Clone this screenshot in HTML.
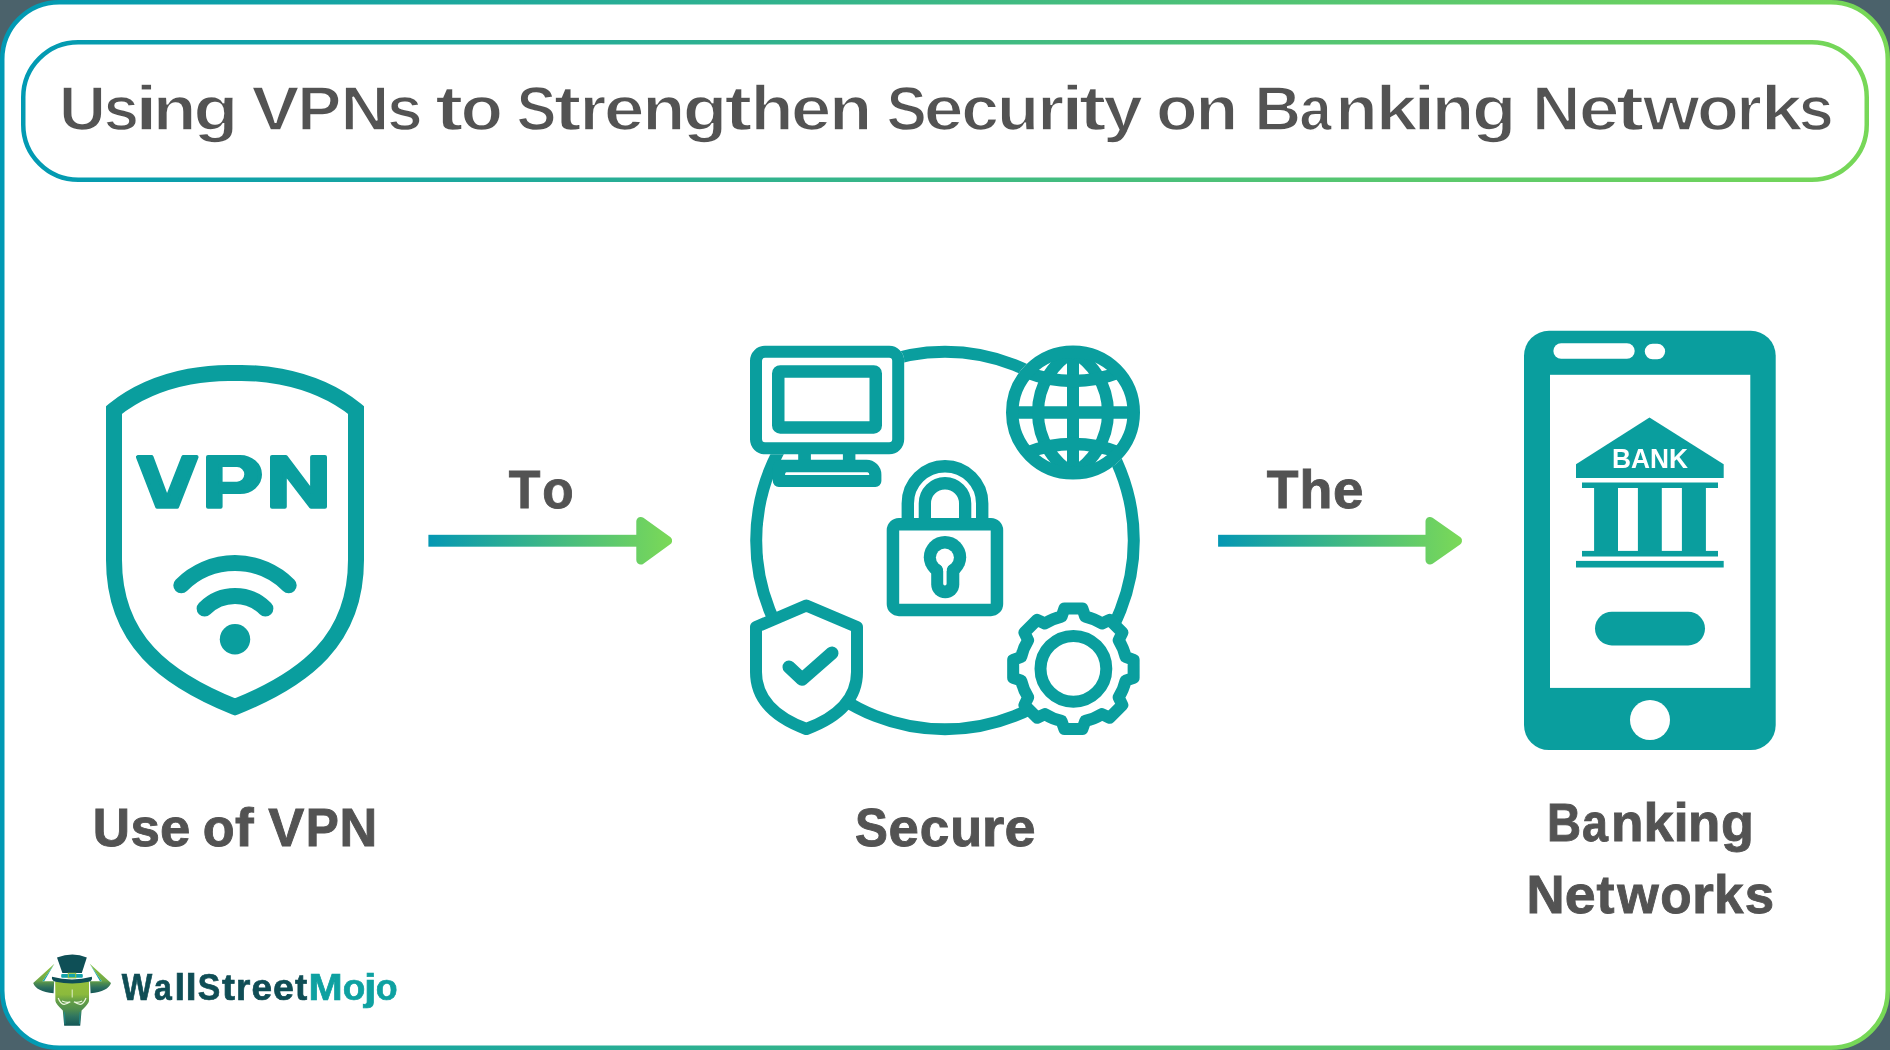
<!DOCTYPE html>
<html><head><meta charset="utf-8"><style>
html,body{margin:0;padding:0;width:1890px;height:1050px;overflow:hidden;background:#4b626b}
svg{display:block;will-change:transform}
text{font-family:"Liberation Sans",sans-serif}
</style></head><body>
<svg width="1890" height="1050" viewBox="0 0 1890 1050">
<defs>
<linearGradient id="gb" x1="0" y1="0" x2="1890" y2="0" gradientUnits="userSpaceOnUse"><stop offset="0" stop-color="#0099b4"/><stop offset="1" stop-color="#78d856"/></linearGradient>
<linearGradient id="ga1" x1="428" y1="0" x2="672" y2="0" gradientUnits="userSpaceOnUse"><stop offset="0" stop-color="#0497b3"/><stop offset="1" stop-color="#7bd957"/></linearGradient>
<linearGradient id="ga2" x1="1218" y1="0" x2="1462" y2="0" gradientUnits="userSpaceOnUse"><stop offset="0" stop-color="#0497b3"/><stop offset="1" stop-color="#7bd957"/></linearGradient>
<clipPath id="gclip"><circle cx="1073" cy="412.5" r="61"/></clipPath>
</defs>
<rect x="0" y="0" width="1890" height="1050" fill="#4b626b"/>
<rect x="2.25" y="2.25" width="1885.5" height="1045.5" rx="57" fill="#ffffff" stroke="url(#gb)" stroke-width="4.5"/>
<rect x="23.25" y="42.25" width="1843.5" height="137.5" rx="55" fill="none" stroke="url(#gb)" stroke-width="4.5"/>
<text transform="translate(59.04,0) scale(1.0270,1)" x="0" y="129.6" font-size="63.2" fill="#535353" font-weight="bold" stroke="#fff" stroke-width="1.6">U</text>
<text transform="translate(103.48,0) scale(1.0124,1)" x="0" y="129.6" font-size="63.2" fill="#535353" font-weight="bold" stroke="#fff" stroke-width="1.6">s</text>
<text transform="translate(134.76,0) scale(1.3279,1)" x="0" y="129.6" font-size="63.2" fill="#535353" font-weight="bold" stroke="#fff" stroke-width="1.6">i</text>
<text transform="translate(152.74,0) scale(1.1362,1)" x="0" y="129.6" font-size="63.2" fill="#535353" font-weight="bold" stroke="#fff" stroke-width="1.6">n</text>
<text transform="translate(193.18,0) scale(1.1731,1)" x="0" y="129.6" font-size="63.2" fill="#535353" font-weight="bold" stroke="#fff" stroke-width="1.6">g</text>
<text transform="translate(251.26,0) scale(1.1484,1)" x="0" y="129.6" font-size="63.2" fill="#535353" font-weight="bold" stroke="#fff" stroke-width="1.6">V</text>
<text transform="translate(297.31,0) scale(1.0467,1)" x="0" y="129.6" font-size="63.2" fill="#535353" font-weight="bold" stroke="#fff" stroke-width="1.6">P</text>
<text transform="translate(340.54,0) scale(1.0730,1)" x="0" y="129.6" font-size="63.2" fill="#535353" font-weight="bold" stroke="#fff" stroke-width="1.6">N</text>
<text transform="translate(386.99,0) scale(1.0151,1)" x="0" y="129.6" font-size="63.2" fill="#535353" font-weight="bold" stroke="#fff" stroke-width="1.6">s</text>
<text transform="translate(435.05,0) scale(1.3506,1)" x="0" y="129.6" font-size="63.2" fill="#535353" font-weight="bold" stroke="#fff" stroke-width="1.6">t</text>
<text transform="translate(460.58,0) scale(1.1017,1)" x="0" y="129.6" font-size="63.2" fill="#535353" font-weight="bold" stroke="#fff" stroke-width="1.6">o</text>
<text transform="translate(516.55,0) scale(0.9480,1)" x="0" y="129.6" font-size="63.2" fill="#535353" font-weight="bold" stroke="#fff" stroke-width="1.6">S</text>
<text transform="translate(553.75,0) scale(1.3193,1)" x="0" y="129.6" font-size="63.2" fill="#535353" font-weight="bold" stroke="#fff" stroke-width="1.6">t</text>
<text transform="translate(579.38,0) scale(1.0911,1)" x="0" y="129.6" font-size="63.2" fill="#535353" font-weight="bold" stroke="#fff" stroke-width="1.6">r</text>
<text transform="translate(603.85,0) scale(1.1625,1)" x="0" y="129.6" font-size="63.2" fill="#535353" font-weight="bold" stroke="#fff" stroke-width="1.6">e</text>
<text transform="translate(642.20,0) scale(1.1176,1)" x="0" y="129.6" font-size="63.2" fill="#535353" font-weight="bold" stroke="#fff" stroke-width="1.6">n</text>
<text transform="translate(682.74,0) scale(1.1579,1)" x="0" y="129.6" font-size="63.2" fill="#535353" font-weight="bold" stroke="#fff" stroke-width="1.6">g</text>
<text transform="translate(724.17,0) scale(1.3372,1)" x="0" y="129.6" font-size="63.2" fill="#535353" font-weight="bold" stroke="#fff" stroke-width="1.6">t</text>
<text transform="translate(750.49,0) scale(1.1167,1)" x="0" y="129.6" font-size="63.2" fill="#535353" font-weight="bold" stroke="#fff" stroke-width="1.6">h</text>
<text transform="translate(790.65,0) scale(1.1570,1)" x="0" y="129.6" font-size="63.2" fill="#535353" font-weight="bold" stroke="#fff" stroke-width="1.6">e</text>
<text transform="translate(829.10,0) scale(1.1214,1)" x="0" y="129.6" font-size="63.2" fill="#535353" font-weight="bold" stroke="#fff" stroke-width="1.6">n</text>
<text transform="translate(886.41,0) scale(0.9558,1)" x="0" y="129.6" font-size="63.2" fill="#535353" font-weight="bold" stroke="#fff" stroke-width="1.6">S</text>
<text transform="translate(923.68,0) scale(1.1324,1)" x="0" y="129.6" font-size="63.2" fill="#535353" font-weight="bold" stroke="#fff" stroke-width="1.6">e</text>
<text transform="translate(961.33,0) scale(1.0746,1)" x="0" y="129.6" font-size="63.2" fill="#535353" font-weight="bold" stroke="#fff" stroke-width="1.6">c</text>
<text transform="translate(996.69,0) scale(1.1027,1)" x="0" y="129.6" font-size="63.2" fill="#535353" font-weight="bold" stroke="#fff" stroke-width="1.6">u</text>
<text transform="translate(1037.17,0) scale(1.0939,1)" x="0" y="129.6" font-size="63.2" fill="#535353" font-weight="bold" stroke="#fff" stroke-width="1.6">r</text>
<text transform="translate(1060.66,0) scale(1.3222,1)" x="0" y="129.6" font-size="63.2" fill="#535353" font-weight="bold" stroke="#fff" stroke-width="1.6">i</text>
<text transform="translate(1078.76,0) scale(1.3232,1)" x="0" y="129.6" font-size="63.2" fill="#535353" font-weight="bold" stroke="#fff" stroke-width="1.6">t</text>
<text transform="translate(1103.09,0) scale(1.1401,1)" x="0" y="129.6" font-size="63.2" fill="#535353" font-weight="bold" stroke="#fff" stroke-width="1.6">y</text>
<text transform="translate(1156.01,0) scale(1.0780,1)" x="0" y="129.6" font-size="63.2" fill="#535353" font-weight="bold" stroke="#fff" stroke-width="1.6">o</text>
<text transform="translate(1195.16,0) scale(1.1179,1)" x="0" y="129.6" font-size="63.2" fill="#535353" font-weight="bold" stroke="#fff" stroke-width="1.6">n</text>
<text transform="translate(1254.22,0) scale(1.0275,1)" x="0" y="129.6" font-size="63.2" fill="#535353" font-weight="bold" stroke="#fff" stroke-width="1.6">B</text>
<text transform="translate(1299.27,0) scale(0.9240,1)" x="0" y="129.6" font-size="63.2" fill="#535353" font-weight="bold" stroke="#fff" stroke-width="1.6">a</text>
<text transform="translate(1335.28,0) scale(1.1017,1)" x="0" y="129.6" font-size="63.2" fill="#535353" font-weight="bold" stroke="#fff" stroke-width="1.6">n</text>
<text transform="translate(1375.49,0) scale(1.1991,1)" x="0" y="129.6" font-size="63.2" fill="#535353" font-weight="bold" stroke="#fff" stroke-width="1.6">k</text>
<text transform="translate(1412.87,0) scale(1.3222,1)" x="0" y="129.6" font-size="63.2" fill="#535353" font-weight="bold" stroke="#fff" stroke-width="1.6">i</text>
<text transform="translate(1431.66,0) scale(1.1003,1)" x="0" y="129.6" font-size="63.2" fill="#535353" font-weight="bold" stroke="#fff" stroke-width="1.6">n</text>
<text transform="translate(1471.97,0) scale(1.1532,1)" x="0" y="129.6" font-size="63.2" fill="#535353" font-weight="bold" stroke="#fff" stroke-width="1.6">g</text>
<text transform="translate(1531.97,0) scale(1.0612,1)" x="0" y="129.6" font-size="63.2" fill="#535353" font-weight="bold" stroke="#fff" stroke-width="1.6">N</text>
<text transform="translate(1578.71,0) scale(1.1604,1)" x="0" y="129.6" font-size="63.2" fill="#535353" font-weight="bold" stroke="#fff" stroke-width="1.6">e</text>
<text transform="translate(1615.80,0) scale(1.3540,1)" x="0" y="129.6" font-size="63.2" fill="#535353" font-weight="bold" stroke="#fff" stroke-width="1.6">t</text>
<text transform="translate(1642.65,0) scale(1.1574,1)" x="0" y="129.6" font-size="63.2" fill="#535353" font-weight="bold" stroke="#fff" stroke-width="1.6">w</text>
<text transform="translate(1696.94,0) scale(1.0846,1)" x="0" y="129.6" font-size="63.2" fill="#535353" font-weight="bold" stroke="#fff" stroke-width="1.6">o</text>
<text transform="translate(1736.55,0) scale(1.0306,1)" x="0" y="129.6" font-size="63.2" fill="#535353" font-weight="bold" stroke="#fff" stroke-width="1.6">r</text>
<text transform="translate(1760.64,0) scale(1.1946,1)" x="0" y="129.6" font-size="63.2" fill="#535353" font-weight="bold" stroke="#fff" stroke-width="1.6">k</text>
<text transform="translate(1798.59,0) scale(1.0047,1)" x="0" y="129.6" font-size="63.2" fill="#535353" font-weight="bold" stroke="#fff" stroke-width="1.6">s</text>
<path d="M114,410 C165,369 232,373 235,373 C238,373 305,369 356,410 L356,560 C356,640 305,679 235,707 C165,679 114,640 114,560 Z" fill="none" stroke="#0a9e9e" stroke-width="16" stroke-linejoin="miter" stroke-miterlimit="10"/>
<g fill="#0a9e9e" stroke="#0a9e9e" stroke-width="4" stroke-linejoin="round">
<path d="M137.92,457.00 L151.51,457.00 L167.06,498.59 L183.36,457.00 L196.57,457.00 L177.13,506.70 L157.17,506.70 Z"/>
<path fill-rule="evenodd" d="M208,457 L240,457 C251.05,457 260,464.83 260,474.5 C260,484.17 251.05,492 240,492 L220.6,492 L220.6,506.7 L208,506.7 Z M220.6,465 L237,465 C242.14,465 246.3,469.19 246.3,474.35 C246.3,479.51 242.14,483.7 237,483.7 L220.6,483.7 Z"/>
<path d="M272.00,457.00 L285.80,457.00 L312.10,491.99 L312.10,457.00 L325.00,457.00 L325.00,506.70 L311.09,506.70 L284.80,472.52 L284.80,506.70 L272.00,506.70 Z"/>
</g>
<path d="M204.6,608.6 A43,43 0 0 1 265.4,608.6" fill="none" stroke="#0a9e9e" stroke-width="16" stroke-linecap="round"/>
<path d="M181.3,585.3 A76,76 0 0 1 288.7,585.3" fill="none" stroke="#0a9e9e" stroke-width="16" stroke-linecap="round"/>
<circle cx="235" cy="639.2" r="15.2" fill="#0a9e9e"/>
<rect x="428.4" y="534.8" width="211.89999999999998" height="11.9" fill="url(#ga1)"/>
<path d="M640.8,521.4 L640.8,560.1 L667.6,540.7 Z" fill="url(#ga1)" stroke="url(#ga1)" stroke-width="9" stroke-linejoin="round"/>
<rect x="1218.1" y="534.8" width="211.4000000000001" height="11.9" fill="url(#ga2)"/>
<path d="M1430.0,521.4 L1430.0,560.1 L1457.5,540.7 Z" fill="url(#ga2)" stroke="url(#ga2)" stroke-width="9" stroke-linejoin="round"/>
<circle cx="945" cy="540.5" r="188.8" fill="none" stroke="#0a9e9e" stroke-width="12"/>
<rect x="750" y="345.8" width="154.2" height="108.5" rx="15" fill="#fff"/>
<rect x="756" y="351.8" width="142.2" height="96.5" rx="9" fill="none" stroke="#0a9e9e" stroke-width="12"/>
<rect x="778.25" y="371.45" width="97.5" height="56" rx="2" fill="none" stroke="#0a9e9e" stroke-width="12.5"/>
<rect x="798.2" y="452" width="12.7" height="9" fill="#0a9e9e"/>
<rect x="842.9" y="452" width="12.5" height="9" fill="#0a9e9e"/>
<path d="M780.8,459.7 L866.4,459.7 A15,15 0 0 1 881.4,474.7 L881.4,481 A6,6 0 0 1 875.4,487 L778.8,487 A6,6 0 0 1 772.8,481 L772.8,467.7 A8,8 0 0 1 780.8,459.7 Z" fill="#0a9e9e"/>
<path d="M786.3,472.3 L867.5,472.3 Q869.3,472.3 869.3,474.9 L785,474.9 Q785,472.3 786.3,472.3 Z" fill="#fff"/>
<circle cx="1073" cy="412.5" r="67" fill="#fff"/>
<g clip-path="url(#gclip)" fill="none" stroke="#0a9e9e" stroke-width="12.5">
<line x1="1000" y1="412.4" x2="1150" y2="412.4"/>
<line x1="1073" y1="340" x2="1073" y2="490" stroke-width="12"/>
<path d="M1073,351.5 A70.66,70.66 0 0 0 1073,473.5 A70.66,70.66 0 0 0 1073,351.5 Z" stroke-width="12"/>
<circle cx="1073" cy="253.5" r="127.5"/>
<circle cx="1073" cy="571.5" r="127.5"/>
</g>
<circle cx="1073" cy="412.5" r="60.75" fill="none" stroke="#0a9e9e" stroke-width="12.5"/>
<path d="M907.8,524 L907.8,503.4 A37.2,37.2 0 0 1 982.2,503.4 L982.2,524" fill="none" stroke="#0a9e9e" stroke-width="12.4"/>
<path d="M924.85,524 L924.85,503.4 A20.15,20.15 0 0 1 965.15,503.4 L965.15,524" fill="none" stroke="#0a9e9e" stroke-width="12.3"/>
<rect x="892.95" y="524.25" width="104" height="85.7" rx="6" fill="#fff" stroke="#0a9e9e" stroke-width="12.5"/>
<circle cx="945" cy="557.2" r="21.2" fill="#0a9e9e"/>
<path d="M931.2,560 L959.3,560 L959.3,584.2 A14.05,14.05 0 0 1 931.2,584.2 Z" fill="#0a9e9e"/>
<circle cx="944.9" cy="557.5" r="9" fill="#fff"/>
<path d="M943.2,560 L946.6,560 L946.6,583.7 A1.7,1.7 0 0 1 943.2,583.7 Z" fill="#fff"/>
<path d="M938,562.5 Q943.2,566 943.2,571 L946.6,571 Q946.6,566 951.8,562.5 Z" fill="#fff"/>
<path d="M756,627 L806.3,605.5 L857,627 L857,672 C857,700 836,718 806.3,729 C776.6,718 756,700 756,672 Z" fill="#fff" stroke="#0a9e9e" stroke-width="12" stroke-linejoin="round"/>
<path d="M789,667 L802,679.3 L832,653" fill="none" stroke="#0a9e9e" stroke-width="13" stroke-linecap="round" stroke-linejoin="round"/>
<path d="M1061.55,616.63 L1064.40,608.57 L1082.40,608.57 L1085.25,616.63 A53.50,53.50 0 0 1 1101.91,623.53 L1109.62,619.85 L1122.35,632.58 L1118.67,640.29 A53.50,53.50 0 0 1 1125.57,656.95 L1133.63,659.80 L1133.63,677.80 L1125.57,680.65 A53.50,53.50 0 0 1 1118.67,697.31 L1122.35,705.02 L1109.62,717.75 L1101.91,714.07 A53.50,53.50 0 0 1 1085.25,720.97 L1082.40,729.03 L1064.40,729.03 L1061.55,720.97 A53.50,53.50 0 0 1 1044.89,714.07 L1037.18,717.75 L1024.45,705.02 L1028.13,697.31 A53.50,53.50 0 0 1 1021.23,680.65 L1013.17,677.80 L1013.17,659.80 L1021.23,656.95 A53.50,53.50 0 0 1 1028.13,640.29 L1024.45,632.58 L1037.18,619.85 L1044.89,623.53 A53.50,53.50 0 0 1 1061.55,616.63 Z" fill="#fff" stroke="#0a9e9e" stroke-width="12" stroke-linejoin="round"/>
<circle cx="1073.4" cy="668.8" r="32.9" fill="none" stroke="#0a9e9e" stroke-width="12"/>
<rect x="1524" y="330.8" width="251.7" height="419.3" rx="25" fill="#0a9e9e"/>
<rect x="1550" y="374.8" width="200.3" height="313.1" fill="#fff"/>
<rect x="1553.4" y="343.3" width="81.3" height="15.5" rx="7.75" fill="#fff"/>
<rect x="1644.8" y="343.7" width="20.3" height="15.6" rx="7.8" fill="#fff"/>
<circle cx="1650" cy="720" r="20" fill="#fff"/>
<rect x="1595" y="611.7" width="110" height="33.7" rx="16.85" fill="#0a9e9e"/>
<path d="M1576,478 L1576,464.2 L1649.5,417.6 L1723.7,464.2 L1723.7,478 Z" fill="#0a9e9e"/>
<rect x="1582" y="482.5" width="136" height="5.5" fill="#0a9e9e"/>
<rect x="1594.1" y="487" width="23.9" height="65" fill="#0a9e9e"/>
<rect x="1637.9" y="487" width="23.9" height="65" fill="#0a9e9e"/>
<rect x="1681.9" y="487" width="24" height="65" fill="#0a9e9e"/>
<rect x="1582" y="550.9" width="136" height="5.6" fill="#0a9e9e"/>
<rect x="1576" y="560.9" width="147.7" height="6.6" fill="#0a9e9e"/>
<text x="1612" y="467.8" font-size="27.6" fill="#fff" font-weight="bold" textLength="76" lengthAdjust="spacingAndGlyphs">BANK</text>
<text transform="translate(92.77,0) scale(0.9685,1)" x="0" y="845.9" font-size="53.3" fill="#535353" font-weight="bold" stroke="#535353" stroke-width="0.9">U</text>
<text transform="translate(130.45,0) scale(0.9927,1)" x="0" y="845.9" font-size="53.3" fill="#535353" font-weight="bold" stroke="#535353" stroke-width="0.9">s</text>
<text transform="translate(160.06,0) scale(1.0233,1)" x="0" y="845.9" font-size="53.3" fill="#535353" font-weight="bold" stroke="#535353" stroke-width="0.9">e</text>
<text transform="translate(202.86,0) scale(0.9794,1)" x="0" y="845.9" font-size="53.3" fill="#535353" font-weight="bold" stroke="#535353" stroke-width="0.9">o</text>
<text transform="translate(235.11,0) scale(1.0492,1)" x="0" y="845.9" font-size="53.3" fill="#535353" font-weight="bold" stroke="#535353" stroke-width="0.9">f</text>
<text transform="translate(268.36,0) scale(1.0142,1)" x="0" y="845.9" font-size="53.3" fill="#535353" font-weight="bold" stroke="#535353" stroke-width="0.9">V</text>
<text transform="translate(305.80,0) scale(0.9297,1)" x="0" y="845.9" font-size="53.3" fill="#535353" font-weight="bold" stroke="#535353" stroke-width="0.9">P</text>
<text transform="translate(339.56,0) scale(0.9816,1)" x="0" y="845.9" font-size="53.3" fill="#535353" font-weight="bold" stroke="#535353" stroke-width="0.9">N</text>
<text transform="translate(855.10,0) scale(0.9244,1)" x="0" y="845.9" font-size="53.3" fill="#535353" font-weight="bold" stroke="#535353" stroke-width="0.9">S</text>
<text transform="translate(888.40,0) scale(1.0241,1)" x="0" y="845.9" font-size="53.3" fill="#535353" font-weight="bold" stroke="#535353" stroke-width="0.9">e</text>
<text transform="translate(919.65,0) scale(0.9970,1)" x="0" y="845.9" font-size="53.3" fill="#535353" font-weight="bold" stroke="#535353" stroke-width="0.9">c</text>
<text transform="translate(950.20,0) scale(0.9816,1)" x="0" y="845.9" font-size="53.3" fill="#535353" font-weight="bold" stroke="#535353" stroke-width="0.9">u</text>
<text transform="translate(981.70,0) scale(1.0876,1)" x="0" y="845.9" font-size="53.3" fill="#535353" font-weight="bold" stroke="#535353" stroke-width="0.9">r</text>
<text transform="translate(1004.62,0) scale(1.0496,1)" x="0" y="845.9" font-size="53.3" fill="#535353" font-weight="bold" stroke="#535353" stroke-width="0.9">e</text>
<text transform="translate(1546.91,0) scale(0.8849,1)" x="0" y="841.3" font-size="53.3" fill="#535353" font-weight="bold" stroke="#535353" stroke-width="0.9">B</text>
<text transform="translate(1582.01,0) scale(0.8759,1)" x="0" y="841.3" font-size="53.3" fill="#535353" font-weight="bold" stroke="#535353" stroke-width="0.9">a</text>
<text transform="translate(1611.00,0) scale(0.9985,1)" x="0" y="841.3" font-size="53.3" fill="#535353" font-weight="bold" stroke="#535353" stroke-width="0.9">n</text>
<text transform="translate(1643.43,0) scale(1.0144,1)" x="0" y="841.3" font-size="53.3" fill="#535353" font-weight="bold" stroke="#535353" stroke-width="0.9">k</text>
<text transform="translate(1673.59,0) scale(1.0252,1)" x="0" y="841.3" font-size="53.3" fill="#535353" font-weight="bold" stroke="#535353" stroke-width="0.9">i</text>
<text transform="translate(1688.06,0) scale(0.9929,1)" x="0" y="841.3" font-size="53.3" fill="#535353" font-weight="bold" stroke="#535353" stroke-width="0.9">n</text>
<text transform="translate(1721.03,0) scale(1.0113,1)" x="0" y="841.3" font-size="53.3" fill="#535353" font-weight="bold" stroke="#535353" stroke-width="0.9">g</text>
<text transform="translate(1526.45,0) scale(0.9906,1)" x="0" y="912.9" font-size="53.3" fill="#535353" font-weight="bold" stroke="#535353" stroke-width="0.9">N</text>
<text transform="translate(1564.81,0) scale(1.0425,1)" x="0" y="912.9" font-size="53.3" fill="#535353" font-weight="bold" stroke="#535353" stroke-width="0.9">e</text>
<text transform="translate(1596.61,0) scale(1.0128,1)" x="0" y="912.9" font-size="53.3" fill="#535353" font-weight="bold" stroke="#535353" stroke-width="0.9">t</text>
<text transform="translate(1617.19,0) scale(1.0005,1)" x="0" y="912.9" font-size="53.3" fill="#535353" font-weight="bold" stroke="#535353" stroke-width="0.9">w</text>
<text transform="translate(1660.36,0) scale(0.9644,1)" x="0" y="912.9" font-size="53.3" fill="#535353" font-weight="bold" stroke="#535353" stroke-width="0.9">o</text>
<text transform="translate(1692.07,0) scale(1.0524,1)" x="0" y="912.9" font-size="53.3" fill="#535353" font-weight="bold" stroke="#535353" stroke-width="0.9">r</text>
<text transform="translate(1714.09,0) scale(0.9943,1)" x="0" y="912.9" font-size="53.3" fill="#535353" font-weight="bold" stroke="#535353" stroke-width="0.9">k</text>
<text transform="translate(1744.65,0) scale(0.9901,1)" x="0" y="912.9" font-size="53.3" fill="#535353" font-weight="bold" stroke="#535353" stroke-width="0.9">s</text>
<text transform="translate(508.76,0) scale(0.9710,1)" x="0" y="508.2" font-size="53.3" fill="#535353" font-weight="bold" stroke="#535353" stroke-width="0.9">T</text>
<text transform="translate(542.36,0) scale(0.9644,1)" x="0" y="508.2" font-size="53.3" fill="#535353" font-weight="bold" stroke="#535353" stroke-width="0.9">o</text>
<text transform="translate(1266.72,0) scale(0.9732,1)" x="0" y="508.4" font-size="53.3" fill="#535353" font-weight="bold" stroke="#535353" stroke-width="0.9">T</text>
<text transform="translate(1299.59,0) scale(1.0106,1)" x="0" y="508.4" font-size="53.3" fill="#535353" font-weight="bold" stroke="#535353" stroke-width="0.9">h</text>
<text transform="translate(1333.02,0) scale(1.0297,1)" x="0" y="508.4" font-size="53.3" fill="#535353" font-weight="bold" stroke="#535353" stroke-width="0.9">e</text>
<defs><linearGradient id="lh" x1="0" y1="964" x2="0" y2="993.5" gradientUnits="userSpaceOnUse"><stop offset="0" stop-color="#92c43c"/><stop offset="0.55" stop-color="#6fa845"/><stop offset="0.65" stop-color="#4d8c4f"/><stop offset="0.8" stop-color="#2c6f5e"/><stop offset="1" stop-color="#125656"/></linearGradient>
<linearGradient id="lhd" x1="0" y1="982" x2="0" y2="1026" gradientUnits="userSpaceOnUse"><stop offset="0" stop-color="#93be3c"/><stop offset="0.28" stop-color="#8cba3c"/><stop offset="0.42" stop-color="#66a046"/><stop offset="0.62" stop-color="#4f8e4e"/><stop offset="0.78" stop-color="#2f7560"/><stop offset="1" stop-color="#125656"/></linearGradient></defs>
<path d="M54.4,963.7 L33.2,983 Q36,991.5 53.6,993.3 L54.2,981.3 L42.4,981.3 Z" fill="url(#lh)"/>
<path d="M54.4,963.7 L42.4,981.3 L44.2,981.3 Z" fill="#18a3a6"/>
<path d="M89.8,963.7 L111,983 Q108.2,991.5 90.6,993.3 L90,981.3 L101.8,981.3 Z" fill="url(#lh)"/>
<path d="M89.8,963.7 L101.8,981.3 L100,981.3 Z" fill="#18a3a6"/>
<path d="M55.2,981.5 L89,981.5 L89,1001 Q88.5,1004 81.6,1010.5 L80.2,1025.7 L64.2,1025.7 L62.8,1010.5 Q55.9,1004 55.4,1001 Z" fill="url(#lhd)"/>
<path d="M64.4,1012 L65,1024 M80,1012 L79.4,1024" stroke="#1f8f92" stroke-width="0.8" fill="none"/>
<path d="M58.2,998 Q60.5,1004 64,1004.3 Q67,1004 70.3,1001.7 M62,1001 Q66,1002.8 69.5,1002.2 M86,998 Q83.7,1004 80.2,1004.3 Q77.2,1004 73.9,1001.7 M82.2,1001 Q78.2,1002.8 74.7,1002.2" fill="none" stroke="#eef7e0" stroke-width="1.2"/>
<path d="M72.2,989.5 L72.2,997.5" stroke="#eef7e0" stroke-width="0.9"/>
<path d="M57,957.4 Q72.8,951.5 86.8,957.4 L81.8,973 L62.4,973 Z" fill="#0e4f56"/>
<rect x="61.2" y="974" width="21.6" height="3.8" rx="1" fill="#14a3ab"/>
<rect x="68.3" y="973.3" width="7.4" height="4.5" fill="none" stroke="#93c43e" stroke-width="1.1"/>
<path d="M52,976.8 Q72,982 91.8,976.8 Q93,980.5 89,981.8 Q72,985 55.5,981.8 Q51.2,980.5 52,976.8 Z" fill="#0e4f56"/>

<text transform="translate(121.80,0) scale(0.8717,1)" x="0" y="999.7" font-size="37" fill="#0f4d55" font-weight="bold" stroke="#0f4d55" stroke-width="0.7">W</text>
<text transform="translate(153.92,0) scale(0.8664,1)" x="0" y="999.7" font-size="37" fill="#0f4d55" font-weight="bold" stroke="#0f4d55" stroke-width="0.7">a</text>
<text transform="translate(174.47,0) scale(1.0352,1)" x="0" y="999.7" font-size="37" fill="#0f4d55" font-weight="bold" stroke="#0f4d55" stroke-width="0.7">l</text>
<text transform="translate(185.40,0) scale(1.0993,1)" x="0" y="999.7" font-size="37" fill="#0f4d55" font-weight="bold" stroke="#0f4d55" stroke-width="0.7">l</text>
<text transform="translate(197.72,0) scale(0.9113,1)" x="0" y="999.7" font-size="37" fill="#0f4d55" font-weight="bold" stroke="#0f4d55" stroke-width="0.7">S</text>
<text transform="translate(221.88,0) scale(1.0513,1)" x="0" y="999.7" font-size="37" fill="#0f4d55" font-weight="bold" stroke="#0f4d55" stroke-width="0.7">t</text>
<text transform="translate(235.92,0) scale(0.9984,1)" x="0" y="999.7" font-size="37" fill="#0f4d55" font-weight="bold" stroke="#0f4d55" stroke-width="0.7">r</text>
<text transform="translate(251.59,0) scale(0.9980,1)" x="0" y="999.7" font-size="37" fill="#0f4d55" font-weight="bold" stroke="#0f4d55" stroke-width="0.7">e</text>
<text transform="translate(273.12,0) scale(1.0125,1)" x="0" y="999.7" font-size="37" fill="#0f4d55" font-weight="bold" stroke="#0f4d55" stroke-width="0.7">e</text>
<text transform="translate(294.91,0) scale(0.9944,1)" x="0" y="999.7" font-size="37" fill="#0f4d55" font-weight="bold" stroke="#0f4d55" stroke-width="0.7">t</text>
<text transform="translate(308.54,0) scale(1.1083,1)" x="0" y="999.7" font-size="37" fill="#0ea1a1" font-weight="bold" stroke="#0ea1a1" stroke-width="0.7">M</text>
<text transform="translate(342.64,0) scale(0.9970,1)" x="0" y="999.7" font-size="37" fill="#0ea1a1" font-weight="bold" stroke="#0ea1a1" stroke-width="0.7">o</text>
<text transform="translate(364.03,0) scale(1.2170,1)" x="0" y="999.7" font-size="37" fill="#0ea1a1" font-weight="bold" stroke="#0ea1a1" stroke-width="0.7">j</text>
<text transform="translate(375.70,0) scale(0.9657,1)" x="0" y="999.7" font-size="37" fill="#0ea1a1" font-weight="bold" stroke="#0ea1a1" stroke-width="0.7">o</text>
</svg>
</body></html>
